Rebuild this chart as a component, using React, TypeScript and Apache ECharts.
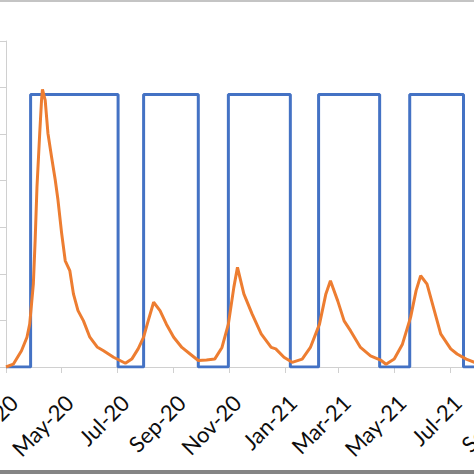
import React, { useEffect, useRef } from "react";
import * as echarts from "echarts";

// Daily date axis, Mar 2020 – Oct 2021
const START_DATE = "2020-03-01";
const END_DATE = "2021-10-31";
const MONTH_NAMES = ["Jan", "Feb", "Mar", "Apr", "May", "Jun", "Jul", "Aug", "Sep", "Oct", "Nov", "Dec"];

// Y axis range (ticks only, labels sit outside the visible area)
const Y_MIN = 0;
const Y_MAX = 7;
const Y_STEP = 1;

// On/off periods (high level vs. zero)
const PERIOD_LEVEL = 5.85;
const PERIOD_SWITCH_DATES = [
  "2020-03-28", "2020-07-02",
  "2020-07-30", "2020-09-28",
  "2020-10-31", "2021-01-07",
  "2021-02-07", "2021-04-15",
  "2021-05-18", "2021-07-16",
];

// Observed curve
const CURVE_DATES = [
  "2020-03-01", "2020-03-09", "2020-03-18", "2020-03-24", "2020-03-27", "2020-03-31",
  "2020-04-02", "2020-04-04", "2020-04-07", "2020-04-09", "2020-04-10", "2020-04-13",
  "2020-04-16", "2020-04-20", "2020-04-24", "2020-04-27", "2020-05-01", "2020-05-05",
  "2020-05-10", "2020-05-14", "2020-05-19", "2020-05-25", "2020-06-01", "2020-06-09",
  "2020-06-16", "2020-06-27", "2020-07-10", "2020-07-17", "2020-07-24", "2020-07-30",
  "2020-08-04", "2020-08-10", "2020-08-17", "2020-08-24", "2020-09-01", "2020-09-10",
  "2020-09-19", "2020-09-28", "2020-10-07", "2020-10-16", "2020-10-24", "2020-10-31",
  "2020-11-06", "2020-11-10", "2020-11-17", "2020-11-26", "2020-12-06", "2020-12-17",
  "2020-12-22", "2020-12-31", "2021-01-09", "2021-01-20", "2021-01-29", "2021-02-08",
  "2021-02-15", "2021-02-20", "2021-02-28", "2021-03-07", "2021-03-14", "2021-03-25",
  "2021-04-05", "2021-04-16", "2021-04-22", "2021-05-01", "2021-05-10", "2021-05-19",
  "2021-05-25", "2021-05-30", "2021-06-06", "2021-06-14", "2021-06-21", "2021-07-02",
  "2021-07-09", "2021-07-19", "2021-07-28", "2021-08-10",
];
const CURVE_VALUES = [
  0.0, 0.06, 0.35, 0.64, 0.92, 1.78,
  2.73, 3.87, 5.02, 5.73, 5.96, 5.73,
  5.02, 4.51, 4.02, 3.59, 2.88, 2.28,
  2.07, 1.57, 1.21, 0.99, 0.64, 0.43,
  0.35, 0.21, 0.08, 0.17, 0.39, 0.64,
  0.99, 1.39, 1.21, 0.92, 0.64, 0.42,
  0.28, 0.14, 0.15, 0.17, 0.42, 0.92,
  1.71, 2.14, 1.57, 1.14, 0.71, 0.42,
  0.39, 0.21, 0.10, 0.17, 0.42, 0.92,
  1.57, 1.85, 1.42, 0.99, 0.78, 0.42,
  0.24, 0.15, 0.06, 0.17, 0.49, 1.07,
  1.64, 1.96, 1.78, 1.21, 0.71, 0.39,
  0.28, 0.17, 0.10, 0.08,
];

function buildDays(start: string, end: string): string[] {
  const out: string[] = [];
  const d = new Date(start + "T00:00:00Z");
  const last = new Date(end + "T00:00:00Z").getTime();
  while (d.getTime() <= last) {
    out.push(d.toISOString().slice(0, 10));
    d.setUTCDate(d.getUTCDate() + 1);
  }
  return out;
}

function isMajorTick(value: string): boolean {
  const month = parseInt(value.slice(5, 7), 10);
  return value.slice(8, 10) === "01" && month % 2 === 1;
}

function formatMonth(value: string): string {
  const month = parseInt(value.slice(5, 7), 10);
  return `${MONTH_NAMES[month - 1]}-${value.slice(2, 4)}`;
}

export default function App() {
  const ref = useRef<HTMLDivElement>(null);

  useEffect(() => {
    document.body.style.margin = "0";
    if (!ref.current) return;
    const chart = echarts.init(ref.current, null, { renderer: "svg" });

    const days = buildDays(START_DATE, END_DATE);

    const periodData: [string, number][] = [[START_DATE, 0]];
    PERIOD_SWITCH_DATES.forEach((d, i) => {
      const on = i % 2 === 0;
      periodData.push([d, on ? 0 : PERIOD_LEVEL]);
      periodData.push([d, on ? PERIOD_LEVEL : 0]);
    });
    periodData.push([END_DATE, 0]);

    const curveData = CURVE_DATES.map((d, i) => [d, CURVE_VALUES[i]]);

    chart.setOption({
      animation: false,
      backgroundColor: "#ffffff",
      grid: {
        left: 6,
        top: 41,
        bottom: 107,
        width: 555,
        containLabel: false,
        outerBoundsMode: "none",
      },
      xAxis: {
        type: "category",
        data: days,
        boundaryGap: false,
        axisLine: { lineStyle: { color: "#d0d0d0", width: 1 } },
        axisTick: {
          show: true,
          interval: (_i: number, v: string) => isMajorTick(v),
          length: 6,
          lineStyle: { color: "#d0d0d0" },
        },
        axisLabel: {
          interval: (_i: number, v: string) => isMajorTick(v),
          formatter: formatMonth,
          rotate: 45,
          margin: 24,
          verticalAlign: "top",
          fontSize: 22,
          fontFamily: "Lato",
          color: "#0d0d0d",
        },
        splitLine: { show: false },
      },
      yAxis: {
        type: "value",
        min: Y_MIN,
        max: Y_MAX,
        interval: Y_STEP,
        axisLine: { show: true, lineStyle: { color: "#d0d0d0", width: 1 } },
        axisTick: { show: true, length: 6, lineStyle: { color: "#d0d0d0" } },
        axisLabel: { show: false },
        splitLine: { show: false },
      },
      series: [
        {
          type: "line",
          data: periodData,
          symbol: "none",
          lineStyle: { color: "#4472c4", width: 3 },
          z: 2,
        },
        {
          type: "line",
          data: curveData,
          symbol: "none",
          lineStyle: { color: "#ed7d31", width: 3 },
          z: 3,
        },
      ],
      graphic: [
        { type: "rect", shape: { x: 0, y: 0, width: 474, height: 2 }, style: { fill: "#c4c4c4" }, z: 10 },
        { type: "rect", shape: { x: 0, y: 470, width: 474, height: 4 }, style: { fill: "#858585" }, z: 10 },
      ],
    });

    return () => chart.dispose();
  }, []);

  return <div ref={ref} style={{ width: 474, height: 474 }} />;
}
